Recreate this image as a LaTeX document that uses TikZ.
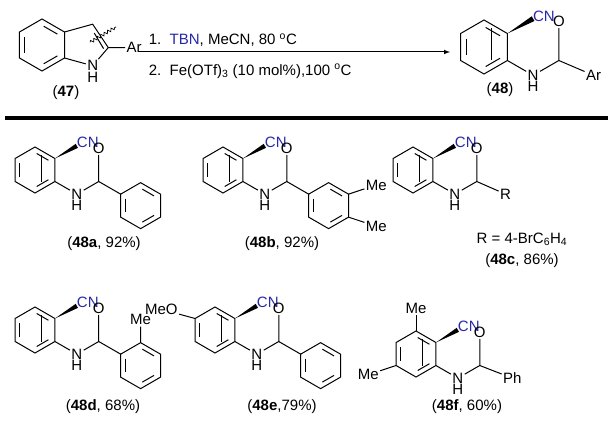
\documentclass[tikz,border=0pt]{standalone}
\usepackage{fontspec}
\setmainfont{Liberation Sans}
\usetikzlibrary{positioning,calc,decorations.pathmorphing}

\definecolor{cnblue}{RGB}{40,40,170}

\tikzset{
  atom/.style={inner sep=1pt, font=\fontsize{15}{17}\selectfont},
  cn/.style={atom, text=cnblue},
  lbl/.style={font=\fontsize{15}{17}\selectfont}
}

% ring with three inner bonds, #1 centre, #2 start angles of the inner bonds
\newcommand{\hexring}[2]{%
  \draw (#1) +(30:1) -- +(90:1) -- +(150:1) -- +(210:1) -- +(270:1) -- +(330:1) -- cycle;
  \foreach \a in {#2}
    \draw[shorten <=2pt, shorten >=2pt] (#1) +(\a:0.76) -- +({\a+60}:0.76);}

% 2-cyano anilide core, ends at coordinate (r)
\newcommand{\anilide}{%
  \hexring{0,0}{150,270,30}
  \fill (30:1) -- (1.769,1.137) -- (1.869,0.963) -- cycle;
  \node[cn, anchor=south west] (cn) at (1.76,0.9) {CN};
  \node[atom] (n) at (1.819,-1.05) {N};
  \node[atom, below=-2pt of n] (h) {H};
  \coordinate (co) at (2.772,-0.5);
  \node[atom] (o) at (2.772,0.95) {O};
  \coordinate (r) at (3.725,-1.05);
  \draw (330:1) -- (n) -- (co) -- (o);
  \draw ([xshift=-2.5pt]co) -- ([xshift=-2.5pt]o.south);}

\begin{document}
\begin{tikzpicture}[x=1pt, y=1pt, line width=1pt]
  \useasboundingbox (0,0) rectangle (612,-444);

  % indole 47
  \begin{scope}[shift={(42,-45)}, scale=26]
    \hexring{0,0}{150,270,30}
    \coordinate (c3) at (1.95,0.8);
    \coordinate (c2) at (2.55,-0.1);
    \node[atom] (n1) at (1.95,-0.8) {N};
    \node[atom, below=-2pt of n1] (h1) {H};
    \node[atom, anchor=west] (ar1) at (3.2,-0.1) {Ar};
    \draw (30:1) -- (c3) -- (c2) -- (n1) -- (330:1);
    \draw[shorten <=3pt, shorten >=3pt] ($(c3)!0.15!(n1)$) -- ($(c2)!0.2!(n1)$);
    \draw (c2) -- (ar1);
    \draw[line width=0.7pt, decorate, decoration={snake, amplitude=1.5pt, segment length=4pt}]
      (1.85,0.1) -- (2.85,0.7);
  \end{scope}
  \node[lbl] (l47) at (66,-93) {(\textbf{47})};

  % reaction arrow
  \coordinate (arr1) at (138,-52);
  \coordinate (arr2) at (450,-52);
  \draw[-latex] (arr1) -- (arr2);
  \node[lbl, anchor=base west] (cond1) at (145,-45)
    {1.\ \ \textcolor{cnblue}{TBN}, MeCN, 80 \textsuperscript{o}C};
  \node[lbl, anchor=base west] (cond2) at (145,-75)
    {2.\ \ Fe(OTf)\textsubscript{3} (10 mol\%),100 \textsuperscript{o}C};

  % product 48
  \begin{scope}[shift={(484,-47)}, scale=27]
    \anilide
    \node[atom, anchor=west] (ar2) at (r) {Ar};
    \draw (co) -- (ar2);
  \end{scope}
  \node[lbl] (l48) at (500,-90) {(\textbf{48})};

  % separator
  \draw[line width=3.5pt] (5,-118) -- (608,-118);

  % 48a
  \begin{scope}[shift={(35,-170)}, scale=23]
    \anilide
    \draw (co) -- (r);
    \hexring{4.591,-1.55}{150,270,30}
  \end{scope}
  \node[lbl] (l48a) at (104,-244) {(\textbf{48a}, 92\%)};

  % 48b
  \begin{scope}[shift={(223,-170)}, scale=23]
    \anilide
    \draw (co) -- (r);
    \hexring{4.591,-1.55}{150,270,30}
    \node[atom, anchor=west] (me1) at ($(4.591,-1.55)+(30:1)+(30:0.8)$) {Me};
    \node[atom, anchor=west] (me2) at ($(4.591,-1.55)+(330:1)+(330:0.8)$) {Me};
    \draw ($(4.591,-1.55)+(30:1)$) -- (me1);
    \draw ($(4.591,-1.55)+(330:1)$) -- (me2);
  \end{scope}
  \node[lbl] (l48b) at (282,-244) {(\textbf{48b}, 92\%)};

  % 48c
  \begin{scope}[shift={(413,-170)}, scale=23]
    \anilide
    \node[atom, anchor=west] (rr) at (r) {R};
    \draw (co) -- (rr);
  \end{scope}
  \node[lbl] (rdef) at (522,-239) {R = 4-BrC\textsubscript{6}H\textsubscript{4}};
  \node[lbl] (l48c) at (522,-261) {(\textbf{48c}, 86\%)};

  % 48d
  \begin{scope}[shift={(35,-330)}, scale=23]
    \anilide
    \draw (co) -- (r);
    \hexring{4.591,-1.55}{150,270,30}
    \node[atom, anchor=south] (me3) at ($(4.591,-1.55)+(90:1.7)$) {Me};
    \draw ($(4.591,-1.55)+(90:1)$) -- (me3);
  \end{scope}
  \node[lbl] (l48d) at (103,-407) {(\textbf{48d}, 68\%)};

  % 48e
  \begin{scope}[shift={(215,-330)}, scale=23]
    \anilide
    \draw (co) -- (r);
    \hexring{4.591,-1.55}{150,270,30}
    \node[atom, anchor=east] (meo) at (150:1.8) {MeO};
    \draw (150:1) -- (meo);
  \end{scope}
  \node[lbl] (l48e) at (282,-407) {(\textbf{48e},79\%)};

  % 48f
  \begin{scope}[shift={(416,-354)}, scale=23]
    \anilide
    \node[atom, anchor=west] (ph) at (r) {Ph};
    \draw (co) -- (ph);
    \node[atom, anchor=south] (me4) at (90:1.7) {Me};
    \draw (90:1) -- (me4);
    \node[atom, anchor=east] (me5) at (210:1.8) {Me};
    \draw (210:1) -- (me5);
  \end{scope}
  \node[lbl] (l48f) at (467,-407) {(\textbf{48f}, 60\%)};
\end{tikzpicture}
\end{document}
